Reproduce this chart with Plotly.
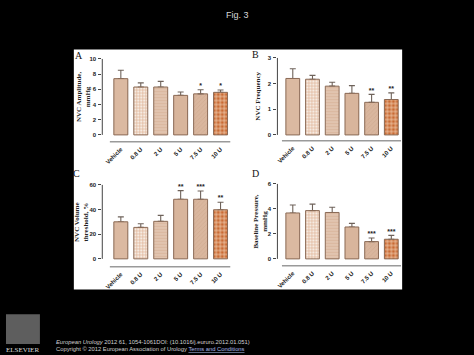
import plotly.graph_objects as go

W, H = 474, 355

categories = ["Vehicle", "0.8 U", "2 U", "5 U", "7.5 U", "10 U"]

amp_mean = [7.4, 6.3, 6.3, 5.2, 5.4, 5.6]
amp_err = [1.1, 0.55, 0.75, 0.45, 0.55, 0.3]
amp_sig = ["", "", "", "", "*", "*"]

freq_mean = [2.2, 2.17, 1.9, 1.62, 1.27, 1.38]
freq_err = [0.38, 0.15, 0.15, 0.3, 0.31, 0.26]
freq_sig = ["", "", "", "", "**", "**"]

vol_mean = [30.0, 25.5, 30.4, 48.3, 48.3, 39.8]
vol_err = [4.0, 3.0, 4.8, 7.0, 6.7, 6.1]
vol_sig = ["", "", "", "**", "***", "**"]

base_mean = [3.67, 3.86, 3.71, 2.55, 1.38, 1.57]
base_err = [0.64, 0.52, 0.42, 0.29, 0.29, 0.31]
base_sig = ["", "", "", "", "***", "***"]

panels = [
    dict(letter="A", mean=amp_mean, err=amp_err, sig=amp_sig, ymax=10, dtick=2,
         title="NVC Amplitude,<br>mmHg"),
    dict(letter="B", mean=freq_mean, err=freq_err, sig=freq_sig, ymax=3, dtick=1,
         title="NVC Frequency"),
    dict(letter="C", mean=vol_mean, err=vol_err, sig=vol_sig, ymax=60, dtick=20,
         title="NVC Volume<br>threshold, %"),
    dict(letter="D", mean=base_mean, err=base_err, sig=base_sig, ymax=6, dtick=2,
         title="Baseline Pressure,<br>mmHg"),
]

# ---- layout geometry (pixels) ----
def px(x):
    return x / W

def py(y):
    return 1 - y / H

geo = [
    dict(xd=(101.5, 230), yd=(140, 56), xr=(-0.93, 5.5), ymin=-0.91, let=(78, 53), tit=(82, 95)),
    dict(xd=(277, 401), yd=(139, 55), xr=(-0.78, 5.5), ymin=-0.23, let=(255, 52), tit=(258, 94)),
    dict(xd=(101.5, 230), yd=(266, 183), xr=(-0.93, 5.5), ymin=-6.4, let=(76, 172), tit=(80, 221)),
    dict(xd=(277, 401), yd=(265, 182), xr=(-0.78, 5.5), ymin=-0.55, let=(255, 172), tit=(260, 220)),
]

# base fill colours and pattern overlays (per category)
base_colors = ["#dbb9a1", "#f6ebe2", "#dbb9a1", "#d8b59c", "#d9b69e", "#c96b35"]
pat_shapes = ["", "+", "-", "", "/", "+"]
pat_colors = ["#dbb9a1", "#dcab8c", "#e8cfbd", "#d8b59c", "#cfa88e", "#f3d6ba"]
pat_size = [4, 3, 3, 4, 3, 4]
pat_sol = [0.3, 0.35, 0.3, 0.3, 0.2, 0.35]

fig = go.Figure()
shapes = []
annotations = []

shapes.append(dict(type="rect", xref="paper", yref="paper",
                   x0=px(73), x1=px(402), y0=py(289), y1=py(47),
                   fillcolor="white", line=dict(width=0), layer="below"))

tickfont = dict(family="Liberation Sans, Arial", size=6, color="#222", weight="bold")

for i, (p, g) in enumerate(zip(panels, geo)):
    n = "" if i == 0 else str(i + 1)
    xa, ya = "x" + n, "y" + n
    # solid base bars with error bars
    fig.add_trace(go.Bar(
        x=categories, y=p["mean"], xaxis=xa, yaxis=ya, width=0.7,
        marker=dict(color=base_colors, line=dict(width=0)),
        error_y=dict(type="data", array=p["err"], arrayminus=[0] * 6, symmetric=False,
                     color="#6e625a", thickness=1.1, width=3),
        showlegend=False, hoverinfo="skip"))
    # pattern overlay with outline
    fig.add_trace(go.Bar(
        x=categories, y=p["mean"], xaxis=xa, yaxis=ya, width=0.7,
        marker=dict(color=pat_colors, line=dict(color="#8a6a56", width=1),
                    pattern=dict(shape=pat_shapes, size=pat_size, solidity=pat_sol,
                                 fillmode="replace")),
        showlegend=False, hoverinfo="skip"))
    tops = [m + e for m, e in zip(p["mean"], p["err"])]
    fig.add_trace(go.Scatter(
        x=categories, y=tops, xaxis=xa, yaxis=ya, mode="text", text=p["sig"],
        textposition="top center", cliponaxis=False,
        textfont=dict(family="Liberation Sans, Arial", size=7, color="#222", weight="bold"),
        showlegend=False, hoverinfo="skip"))

    fig.layout["xaxis" + n] = dict(
        domain=[px(g["xd"][0]), px(g["xd"][1])], anchor=ya, range=list(g["xr"]),
        showline=False, showgrid=False, zeroline=False, ticks="", tickangle=-45,
        tickfont=tickfont, ticklabelstandoff=2, fixedrange=True)
    fig.layout["yaxis" + n] = dict(
        domain=[py(g["yd"][0]), py(g["yd"][1])], anchor=xa,
        range=[g["ymin"], p["ymax"] * 1.005], tick0=0, dtick=p["dtick"],
        showline=False, showgrid=False, zeroline=False, ticks="outside", ticklen=3,
        tickwidth=1, tickcolor="#444", tickfont=tickfont, ticklabelstandoff=1,
        fixedrange=True)

    shapes.append(dict(type="line", xref=xa + " domain", yref=ya, x0=0, x1=0,
                       y0=0, y1=p["ymax"], line=dict(color="#444", width=1)))
    shapes.append(dict(type="line", xref=xa, yref=ya + " domain", x0=-0.55, x1=g["xr"][1],
                       y0=0, y1=0, line=dict(color="#9a9a9a", width=1.5)))

    annotations.append(dict(text=p["letter"], x=px(g["let"][0]), y=py(g["let"][1]),
                            xref="paper", yref="paper", showarrow=False,
                            xanchor="center", yanchor="middle",
                            font=dict(family="Liberation Serif, Times New Roman", size=10, color="#111")))
    annotations.append(dict(text=p["title"], x=px(g["tit"][0]), y=py(g["tit"][1]),
                            xref="paper", yref="paper", showarrow=False, textangle=-90,
                            xanchor="center", yanchor="middle",
                            font=dict(family="Liberation Serif, Times New Roman", size=7,
                                      color="#222", weight="bold")))

annotations.append(dict(text="Fig. 3", x=px(237), y=py(12), xref="paper", yref="paper",
                        showarrow=False, xanchor="center", yanchor="middle",
                        font=dict(family="Liberation Sans, Arial", size=9, color="#d8d8d8")))

# Elsevier logo approximation
shapes.append(dict(type="rect", xref="paper", yref="paper", x0=px(5), x1=px(39),
                   y0=py(344), y1=py(314), fillcolor="#5e5e5e", line=dict(width=0)))
annotations.append(dict(text="ELSEVIER", x=px(22), y=py(350), xref="paper", yref="paper",
                        showarrow=False, xanchor="center", yanchor="middle",
                        font=dict(family="Liberation Serif, Times New Roman", size=7, color="#dddddd")))

annotations.append(dict(
    text="<i>European Urology</i> 2012 61, 1054-1061DOI: (10.1016/j.eururo.2012.01.051)",
    x=px(53), y=py(342), xref="paper", yref="paper", showarrow=False,
    xanchor="left", yanchor="middle",
    font=dict(family="Liberation Sans, Arial", size=5.8, color="#d0d0d0")))
annotations.append(dict(
    text="Copyright © 2012 European Association of Urology "
         "<span style='text-decoration:underline;color:#a9b9e6'>Terms and Conditions</span>",
    x=px(53), y=py(349), xref="paper", yref="paper", showarrow=False,
    xanchor="left", yanchor="middle",
    font=dict(family="Liberation Sans, Arial", size=5.8, color="#d0d0d0")))

fig.update_layout(
    width=W, height=H, margin=dict(l=0, r=0, t=0, b=0),
    paper_bgcolor="black", plot_bgcolor="rgba(0,0,0,0)", barmode="overlay",
    shapes=shapes, annotations=annotations, showlegend=False)

fig.write_html("out.html", config=dict(displayModeBar=False),
               post_script="document.body.style.margin='0';document.body.style.padding='0';"
                           "document.body.style.background='black';"
                           "document.documentElement.style.overflow='hidden';")
